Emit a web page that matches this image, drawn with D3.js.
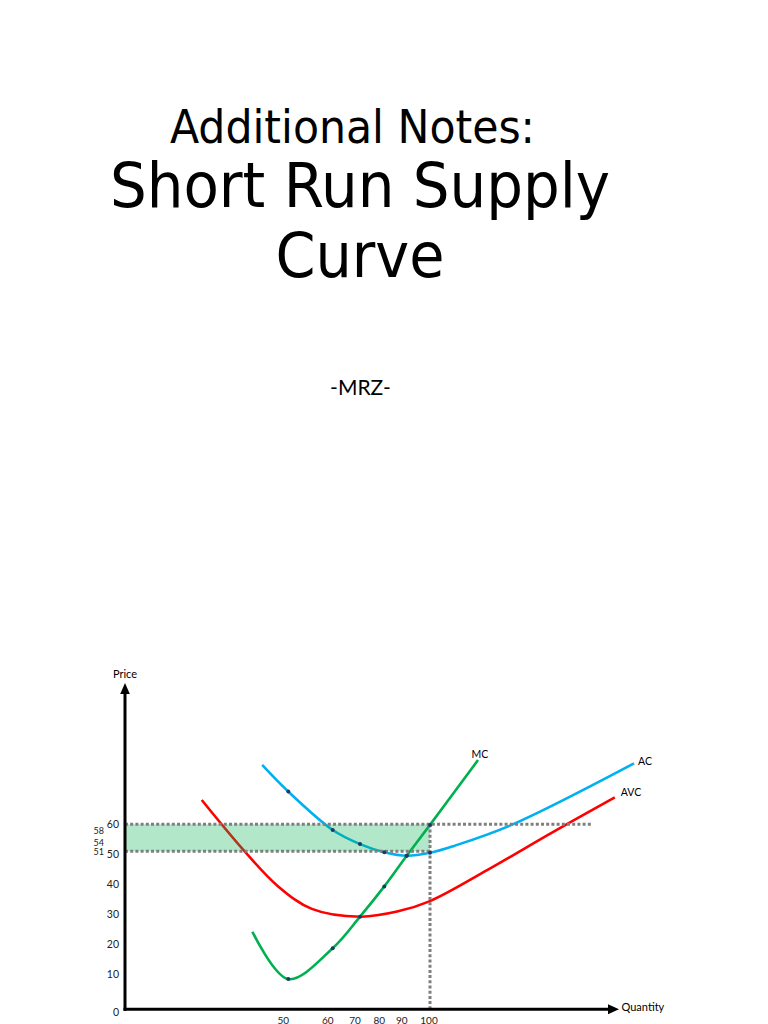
<!DOCTYPE html>
<html>
<head>
<meta charset="utf-8">
<script src="https://cdn.jsdelivr.net/npm/d3@7"></script>
<style>
  body { margin: 0; background: #fff; }
  text { font-family: Lato, "Noto Sans", sans-serif; fill: #000; }
</style>
</head>
<body>
<div id="chart"></div>
<script>
// quantities and prices
var qTicks = [50, 60, 70, 80, 90, 100];
var pTicks = [0, 10, 20, 30, 40, 50, 60];
var acNotes = [58, 54, 51];

var mcQ = [39, 50, 60, 70, 80, 90, 100, 120];
var mcP = [24.2, 8.4, 18.7, 29.2, 39.3, 49.5, 59.8, 81.4];

var acQ = [42, 50, 60, 70, 80, 90, 100, 110, 134, 185];
var acP = [79.8, 70.9, 58.1, 53.4, 50.7, 49.5, 50.5, 52.8, 59.8, 80.3];

var avcQ = [23.5, 36.7, 46.9, 55.3, 70, 85.7, 100, 124, 151, 177];
var avcP = [68.1, 50.9, 39.3, 31.8, 29.2, 30.9, 34.4, 44.8, 57.3, 69];

var dotQ = [50, 60, 70, 80, 90, 100];
var priceHigh = 60, priceLow = 51, qOut = 100;

var svg = d3.select("#chart")
    .append("svg")
    .attr("width", 768)
    .attr("height", 1024);

// title block
svg.append("text")
    .attr("x", 352.5).attr("y", 142.7)
    .attr("text-anchor", "middle")
    .attr("textLength", 365).attr("lengthAdjust", "spacingAndGlyphs")
    .style("font-family", "'DejaVu Sans Condensed', 'DejaVu Sans'")
    .style("font-size", "47px")
    .text("Additional Notes:");
svg.append("text")
    .attr("x", 360).attr("y", 207.3)
    .attr("text-anchor", "middle")
    .attr("textLength", 500).attr("lengthAdjust", "spacingAndGlyphs")
    .style("font-family", "'DejaVu Sans Condensed', 'DejaVu Sans'")
    .style("font-size", "63px")
    .text("Short Run Supply");
svg.append("text")
    .attr("x", 360).attr("y", 276.7)
    .attr("text-anchor", "middle")
    .attr("textLength", 169).attr("lengthAdjust", "spacingAndGlyphs")
    .style("font-family", "'DejaVu Sans Condensed', 'DejaVu Sans'")
    .style("font-size", "63px")
    .text("Curve");
svg.append("text")
    .attr("x", 360.5).attr("y", 395)
    .attr("text-anchor", "middle")
    .style("font-size", "21px")
    .text("-MRZ-");

// hand drawn axis: quantity spacing is uneven in the original
var x = d3.scaleLinear()
    .domain([0, 50, 60, 70, 80, 90, 100, 200])
    .range([125, 288.3, 332.7, 360, 384.3, 406.7, 430, 670]);
var y = d3.scaleLinear()
    .domain([0, 100])
    .range([1004.3, 704.3]);

var baseY = y(0) + 5;
var x0 = x(0);

var line = d3.line()
    .x(function(d) { return x(d[0]); })
    .y(function(d) { return y(d[1]); })
    .curve(d3.curveCatmullRom.alpha(0.5));

function pts(qs, ps) {
    return qs.map(function(q, i) { return [q, ps[i]]; });
}

// curves
svg.append("path")
    .attr("d", line(pts(avcQ, avcP)))
    .attr("fill", "none").attr("stroke", "#ff0000").attr("stroke-width", 2.6);
svg.append("path")
    .attr("d", line(pts(acQ, acP)))
    .attr("fill", "none").attr("stroke", "#00b0f0").attr("stroke-width", 2.6);
svg.append("path")
    .attr("d", line(pts(mcQ, mcP)))
    .attr("fill", "none").attr("stroke", "#00b050").attr("stroke-width", 2.6);

// loss area between the two prices
svg.append("rect")
    .attr("x", x0)
    .attr("y", y(priceHigh))
    .attr("width", x(qOut) - x0)
    .attr("height", y(priceLow) - y(priceHigh))
    .attr("fill", "#00b050")
    .attr("fill-opacity", 0.3);

// dotted guides
var dots = "3,2.2";
svg.append("line")
    .attr("x1", x0).attr("x2", x(167))
    .attr("y1", y(priceHigh)).attr("y2", y(priceHigh))
    .attr("stroke", "#7f7f7f").attr("stroke-width", 3).attr("stroke-dasharray", dots);
svg.append("line")
    .attr("x1", x0).attr("x2", x(qOut))
    .attr("y1", y(priceLow)).attr("y2", y(priceLow))
    .attr("stroke", "#7f7f7f").attr("stroke-width", 3).attr("stroke-dasharray", dots);
svg.append("line")
    .attr("x1", x(qOut)).attr("x2", x(qOut))
    .attr("y1", y(priceHigh)).attr("y2", baseY)
    .attr("stroke", "#7f7f7f").attr("stroke-width", 3).attr("stroke-dasharray", dots);

// points on MC and AC
function interp(qs, ps, q) {
    return d3.scaleLinear().domain(qs).range(ps)(q);
}
svg.selectAll(".mcdot")
    .data(dotQ)
    .enter().append("circle")
    .attr("cx", function(d) { return x(d); })
    .attr("cy", function(d) { return y(interp(mcQ, mcP, d)); })
    .attr("r", 2).attr("fill", "#1f3864");
svg.selectAll(".acdot")
    .data(dotQ)
    .enter().append("circle")
    .attr("cx", function(d) { return x(d); })
    .attr("cy", function(d) { return y(interp(acQ, acP, d)); })
    .attr("r", 2).attr("fill", "#1f3864");

// axes with arrow heads
svg.append("line")
    .attr("x1", x0).attr("x2", x0)
    .attr("y1", baseY + 1.5).attr("y2", 692)
    .attr("stroke", "#000").attr("stroke-width", 3);
svg.append("path")
    .attr("d", "M" + x0 + ",683 L" + (x0 - 4.8) + ",694 L" + (x0 + 4.8) + ",694 Z")
    .attr("fill", "#000");
svg.append("line")
    .attr("x1", x0 - 1.5).attr("x2", 609)
    .attr("y1", baseY).attr("y2", baseY)
    .attr("stroke", "#000").attr("stroke-width", 3);
svg.append("path")
    .attr("d", "M619," + baseY + " L608," + (baseY - 5) + " L608," + (baseY + 5) + " Z")
    .attr("fill", "#000");

svg.append("text")
    .attr("x", x0).attr("y", 678)
    .attr("text-anchor", "middle")
    .style("font-size", "11px")
    .text("Price");
svg.append("text")
    .attr("x", 621.5).attr("y", baseY + 1.5)
    .style("font-size", "11px")
    .text("Quantity");

// tick labels
svg.selectAll(".ptick")
    .data(pTicks)
    .enter().append("text")
    .attr("x", 119)
    .attr("y", function(d) { return d === 0 ? baseY + 7 : y(d) + 3.6; })
    .attr("text-anchor", "end")
    .style("font-size", "10.5px")
    .style("fill", "#222")
    .text(function(d) { return d; });
svg.selectAll(".note")
    .data(acNotes)
    .enter().append("text")
    .attr("x", 104)
    .attr("y", function(d) { return y(d) + 3.2; })
    .attr("text-anchor", "end")
    .style("font-size", "9px")
    .style("fill", "#222")
    .text(function(d) { return d; });
svg.selectAll(".qtick")
    .data(qTicks)
    .enter().append("text")
    .attr("x", function(d) { return x(d) - (d === 100 ? 1 : 5); })
    .attr("y", 1023.5)
    .attr("text-anchor", "middle")
    .style("font-size", "10px")
    .style("fill", "#222")
    .text(function(d) { return d; });

// curve names
svg.append("text")
    .attr("x", x(mcQ[mcQ.length - 1]) + 2)
    .attr("y", y(mcP[mcP.length - 1]) - 2)
    .attr("text-anchor", "middle")
    .style("font-size", "10.5px")
    .text("MC");
svg.append("text")
    .attr("x", x(acQ[acQ.length - 1]) + 4)
    .attr("y", y(acP[acP.length - 1]) + 2)
    .style("font-size", "10.5px")
    .text("AC");
svg.append("text")
    .attr("x", x(avcQ[avcQ.length - 1]) + 6)
    .attr("y", y(avcP[avcP.length - 1]) - 1)
    .style("font-size", "10.5px")
    .text("AVC");
</script>
</body>
</html>
